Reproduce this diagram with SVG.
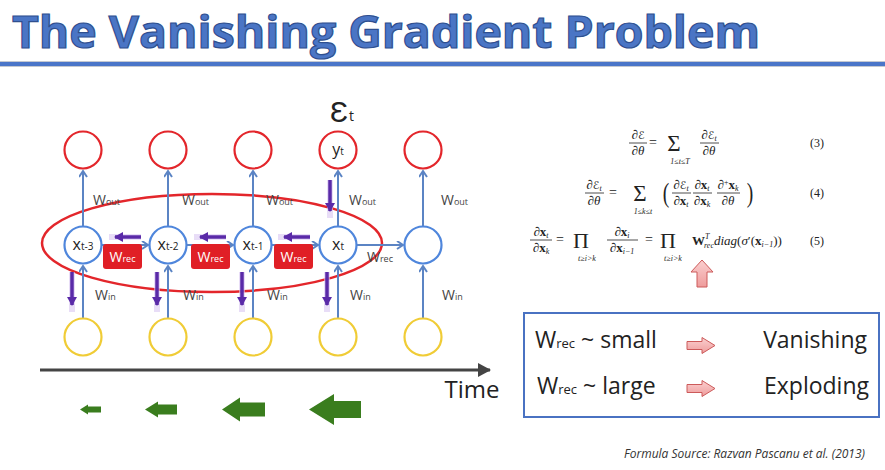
<svg xmlns="http://www.w3.org/2000/svg" width="885" height="470" viewBox="0 0 885 470">
<defs>
<marker id="ab" markerWidth="10" markerHeight="10" refX="7" refY="4" orient="auto" markerUnits="userSpaceOnUse"><path d="M1,0 L7,4 L1,8" fill="none" stroke="#5b84c4" stroke-width="2"/></marker>
<marker id="ap" markerWidth="12" markerHeight="12" refX="8" refY="5" orient="auto" markerUnits="userSpaceOnUse"><path d="M0,0 L9,5 L0,10 Z" fill="#5a2aa8"/></marker>
<marker id="ag" markerWidth="16" markerHeight="16" refX="12" refY="7" orient="auto" markerUnits="userSpaceOnUse"><path d="M0,0 L13,7 L0,14 Z" fill="#444"/></marker>
<linearGradient id="pk" x1="0" y1="0" x2="0" y2="1"><stop offset="0" stop-color="#fbd0d0"/><stop offset="1" stop-color="#ee9c9c"/></linearGradient>
</defs>
<style>
.t{font-family:"Open Sans","Liberation Sans",sans-serif;}
.ttl{font-family:"Open Sans","Liberation Sans",sans-serif;font-weight:700;font-size:45px;fill:#4a75c5;stroke:#2f4f8f;stroke-width:1.2px;}
.nb{fill:#fff;stroke:#4f86dc;stroke-width:2.2;}
.nr{fill:#fff;stroke:#e3262b;stroke-width:2.2;}
.ny{fill:#fff;stroke:#f0cc36;stroke-width:2.2;}
.ln{stroke:#5b84c4;stroke-width:2;fill:none;}
.pg{stroke:#d9c6f2;stroke-width:6;fill:none;opacity:0.6;}
.pp{stroke:#5a2aa8;stroke-width:3.5;fill:none;}
.lb{font-family:"Open Sans","Liberation Sans",sans-serif;fill:#444;font-size:14px;}
.sb{font-size:9px;}
.nl{font-family:"Open Sans","Liberation Sans",sans-serif;fill:#222;font-size:16px;}
.wr{fill:#e01f26;}
.m{font-family:"Liberation Serif","DejaVu Serif",serif;font-size:13px;fill:#222;}
.mi{font-style:italic;}
.mb{font-weight:bold;}
.sc{font-family:"DejaVu Sans",sans-serif;font-size:11px;}
.bar{stroke:#222;stroke-width:0.8;}
.gr{fill:#3a7d1e;}
.pa{fill:url(#pk);stroke:#cc5a5a;stroke-width:1;}
.bx{font-family:"Open Sans","Liberation Sans",sans-serif;fill:#222;font-size:23px;}
</style>
<rect width="885" height="470" fill="#fff"/>
<text class="ttl" x="12" y="48" textLength="748" lengthAdjust="spacingAndGlyphs">The Vanishing Gradient Problem</text>
<rect x="0" y="61" width="885" height="6" fill="#c4c8d0"/>
<rect x="0" y="62" width="885" height="4" fill="#4a75c8"/>

<g id="ellipse"><ellipse cx="212" cy="243" rx="170" ry="49" fill="none" stroke="#e3262b" stroke-width="2.5"/></g>

<g id="connectors">
<line class="ln" x1="83" y1="318" x2="83" y2="266" marker-end="url(#ab)"/>
<line class="ln" x1="168" y1="318" x2="168" y2="266" marker-end="url(#ab)"/>
<line class="ln" x1="253" y1="318" x2="253" y2="266" marker-end="url(#ab)"/>
<line class="ln" x1="338" y1="318" x2="338" y2="266" marker-end="url(#ab)"/>
<line class="ln" x1="423" y1="318" x2="423" y2="266" marker-end="url(#ab)"/>
<line class="ln" x1="83" y1="226" x2="83" y2="171" marker-end="url(#ab)"/>
<line class="ln" x1="168" y1="226" x2="168" y2="171" marker-end="url(#ab)"/>
<line class="ln" x1="253" y1="226" x2="253" y2="171" marker-end="url(#ab)"/>
<line class="ln" x1="338" y1="226" x2="338" y2="171" marker-end="url(#ab)"/>
<line class="ln" x1="423" y1="226" x2="423" y2="171" marker-end="url(#ab)"/>
<line class="ln" x1="102" y1="245" x2="148" y2="245" marker-end="url(#ab)"/>
<line class="ln" x1="187" y1="245" x2="233" y2="245" marker-end="url(#ab)"/>
<line class="ln" x1="272" y1="245" x2="318" y2="245" marker-end="url(#ab)"/>
<line class="ln" x1="357" y1="245" x2="403" y2="245" marker-end="url(#ab)"/>
<line class="pg" x1="141" y1="237" x2="109" y2="237"/>
<line class="pg" x1="226" y1="237" x2="194" y2="237"/>
<line class="pg" x1="310" y1="237" x2="278" y2="237"/>
<line class="pg" x1="330" y1="180" x2="330" y2="218"/>
<line class="pg" x1="72" y1="272" x2="72" y2="312"/>
<line class="pg" x1="157" y1="272" x2="157" y2="312"/>
<line class="pg" x1="242" y1="272" x2="242" y2="312"/>
<line class="pg" x1="327" y1="272" x2="327" y2="312"/>
<line class="pp" x1="141" y1="237" x2="115" y2="237" marker-end="url(#ap)"/>
<line class="pp" x1="226" y1="237" x2="200" y2="237" marker-end="url(#ap)"/>
<line class="pp" x1="310" y1="237" x2="284" y2="237" marker-end="url(#ap)"/>
<line class="pp" x1="330" y1="180" x2="330" y2="211" marker-end="url(#ap)"/>
<line class="pp" x1="72" y1="272" x2="72" y2="305" marker-end="url(#ap)"/>
<line class="pp" x1="157" y1="272" x2="157" y2="305" marker-end="url(#ap)"/>
<line class="pp" x1="242" y1="272" x2="242" y2="305" marker-end="url(#ap)"/>
<line class="pp" x1="327" y1="272" x2="327" y2="305" marker-end="url(#ap)"/>
<line x1="40" y1="370" x2="490" y2="370" stroke="#444" stroke-width="3" marker-end="url(#ag)"/>
</g>

<g id="labels">
<text class="lb" x="93" y="205">W<tspan class="sb">out</tspan></text>
<text class="lb" x="182" y="205">W<tspan class="sb">out</tspan></text>
<text class="lb" x="266" y="205">W<tspan class="sb">out</tspan></text>
<text class="lb" x="349" y="205">W<tspan class="sb">out</tspan></text>
<text class="lb" x="441" y="205">W<tspan class="sb">out</tspan></text>
<text class="lb" x="95" y="300">W<tspan class="sb">in</tspan></text>
<text class="lb" x="183" y="300">W<tspan class="sb">in</tspan></text>
<text class="lb" x="267" y="300">W<tspan class="sb">in</tspan></text>
<text class="lb" x="350" y="300">W<tspan class="sb">in</tspan></text>
<text class="lb" x="442" y="300">W<tspan class="sb">in</tspan></text>
<text class="lb" x="367" y="262">W<tspan class="sb">rec</tspan></text>
<text class="t" x="330" y="122" font-size="30" fill="#222">Ɛ</text>
<text class="t" x="349" y="121" font-size="14" fill="#222">t</text>
<text class="t" x="472" y="398" font-size="24" fill="#222" text-anchor="middle">Time</text>
</g>

<g id="wrec1"><rect class="wr" x="103" y="244" width="39" height="25" rx="3"/><text class="t" x="122.5" y="262" font-size="14" fill="#fff" text-anchor="middle">W<tspan font-size="9">rec</tspan></text></g>
<g id="wrec2"><rect class="wr" x="191" y="244" width="39" height="25" rx="3"/><text class="t" x="210.5" y="262" font-size="14" fill="#fff" text-anchor="middle">W<tspan font-size="9">rec</tspan></text></g>
<g id="wrec3"><rect class="wr" x="274" y="244" width="39" height="25" rx="3"/><text class="t" x="293.5" y="262" font-size="14" fill="#fff" text-anchor="middle">W<tspan font-size="9">rec</tspan></text></g>

<g id="y1"><circle class="nr" cx="83" cy="150" r="18.5"/></g>
<g id="y2"><circle class="nr" cx="168" cy="150" r="18.5"/></g>
<g id="y3"><circle class="nr" cx="253" cy="150" r="18.5"/></g>
<g id="y4"><circle class="nr" cx="338" cy="150" r="18.5"/><text class="nl" x="338" y="155" text-anchor="middle">y<tspan font-size="10">t</tspan></text></g>
<g id="y5"><circle class="nr" cx="423" cy="150" r="18.5"/></g>

<g id="x1"><circle class="nb" cx="83" cy="245" r="18.5"/><text class="nl" x="83" y="250" text-anchor="middle">x<tspan font-size="10">t-3</tspan></text></g>
<g id="x2"><circle class="nb" cx="168" cy="245" r="18.5"/><text class="nl" x="168" y="250" text-anchor="middle">x<tspan font-size="10">t-2</tspan></text></g>
<g id="x3"><circle class="nb" cx="253" cy="245" r="18.5"/><text class="nl" x="253" y="250" text-anchor="middle">x<tspan font-size="10">t-1</tspan></text></g>
<g id="x4"><circle class="nb" cx="338" cy="245" r="18.5"/><text class="nl" x="338" y="250" text-anchor="middle">x<tspan font-size="10">t</tspan></text></g>
<g id="x5"><circle class="nb" cx="423" cy="245" r="18.5"/></g>

<g id="i1"><circle class="ny" cx="83" cy="337" r="18.5"/></g>
<g id="i2"><circle class="ny" cx="168" cy="337" r="18.5"/></g>
<g id="i3"><circle class="ny" cx="253" cy="337" r="18.5"/></g>
<g id="i4"><circle class="ny" cx="338" cy="337" r="18.5"/></g>
<g id="i5"><circle class="ny" cx="423" cy="337" r="18.5"/></g>

<g id="green-arrows">
<path class="gr" d="M80,409.5 L88,404.5 L88,406.5 L101,406.5 L101,412.5 L88,412.5 L88,414.5 Z"/>
<path class="gr" d="M145,409.5 L158,401.5 L158,404.5 L177,404.5 L177,414.5 L158,414.5 L158,417.5 Z"/>
<path class="gr" d="M222,409.5 L240,397.5 L240,402.5 L265,402.5 L265,416.5 L240,416.5 L240,421.5 Z"/>
<path class="gr" d="M309,409.5 L334,394 L334,401 L361,401 L361,418 L334,418 L334,425 Z"/>
</g>

<g id="eq3" class="m">
<text x="638" y="139" text-anchor="middle">∂<tspan class="sc">ℰ</tspan></text><line class="bar" x1="629" y1="143" x2="647" y2="143"/><text x="638" y="155" text-anchor="middle" class="mi">∂θ</text>
<text x="653" y="147" text-anchor="middle" font-size="14">=</text>
<text x="674" y="151" text-anchor="middle" font-size="23">Σ</text>
<text x="680" y="164" text-anchor="middle" font-size="8" class="mi">1≤t≤T</text>
<text x="709" y="139" text-anchor="middle">∂<tspan class="sc">ℰ</tspan><tspan font-size="8" class="mi" dy="2">t</tspan></text><line class="bar" x1="700" y1="143" x2="719" y2="143"/><text x="709" y="155" text-anchor="middle" class="mi">∂θ</text>
<text x="817" y="147" text-anchor="middle" font-size="12">(3)</text>
</g>

<g id="eq4" class="m">
<text x="594" y="189" text-anchor="middle">∂<tspan class="sc">ℰ</tspan><tspan font-size="8" class="mi" dy="2">t</tspan></text><line class="bar" x1="585" y1="193" x2="604" y2="193"/><text x="594" y="205" text-anchor="middle" class="mi">∂θ</text>
<text x="613" y="197" text-anchor="middle" font-size="14">=</text>
<text x="640" y="201" text-anchor="middle" font-size="23">Σ</text>
<text x="643" y="214" text-anchor="middle" font-size="8" class="mi">1≤k≤t</text>
<text x="666" y="202" text-anchor="middle" font-size="28" transform="translate(666 197) scale(0.7 1) translate(-666 -197)">(</text>
<text x="681" y="189" text-anchor="middle">∂<tspan class="sc">ℰ</tspan><tspan font-size="8" class="mi" dy="2">t</tspan></text><line class="bar" x1="672" y1="193" x2="691" y2="193"/><text x="681" y="205" text-anchor="middle">∂<tspan class="mb">x</tspan><tspan font-size="8" class="mi" dy="2">t</tspan></text>
<text x="702" y="189" text-anchor="middle">∂<tspan class="mb">x</tspan><tspan font-size="8" class="mi" dy="2">t</tspan></text><line class="bar" x1="693" y1="193" x2="712" y2="193"/><text x="702" y="205" text-anchor="middle">∂<tspan class="mb">x</tspan><tspan font-size="8" class="mi" dy="2">k</tspan></text>
<text x="728" y="189" text-anchor="middle">∂<tspan font-size="8" dy="-4">+</tspan><tspan class="mb" dy="4">x</tspan><tspan font-size="8" class="mi" dy="2">k</tspan></text><line class="bar" x1="717" y1="193" x2="740" y2="193"/><text x="728" y="205" text-anchor="middle" class="mi">∂θ</text>
<text x="750" y="202" text-anchor="middle" font-size="28" transform="translate(750 197) scale(0.7 1) translate(-750 -197)">)</text>
<text x="817" y="197" text-anchor="middle" font-size="12">(4)</text>
</g>

<g id="eq5" class="m">
<text x="541" y="236" text-anchor="middle">∂<tspan class="mb">x</tspan><tspan font-size="8" class="mi" dy="2">t</tspan></text><line class="bar" x1="530" y1="240" x2="552" y2="240"/><text x="541" y="252" text-anchor="middle">∂<tspan class="mb">x</tspan><tspan font-size="8" class="mi" dy="2">k</tspan></text>
<text x="560" y="244" text-anchor="middle" font-size="14">=</text>
<text x="581" y="248" text-anchor="middle" font-size="22">Π</text>
<text x="587" y="261" text-anchor="middle" font-size="8" class="mi">t≥i&gt;k</text>
<text x="622" y="236" text-anchor="middle">∂<tspan class="mb">x</tspan><tspan font-size="8" class="mi" dy="2">i</tspan></text><line class="bar" x1="607" y1="240" x2="638" y2="240"/><text x="622" y="252" text-anchor="middle">∂<tspan class="mb">x</tspan><tspan font-size="8" class="mi" dy="2">i−1</tspan></text>
<text x="649" y="244" text-anchor="middle" font-size="14">=</text>
<text x="668" y="248" text-anchor="middle" font-size="22">Π</text>
<text x="673" y="261" text-anchor="middle" font-size="8" class="mi">t≥i&gt;k</text>
<text x="692" y="245"><tspan class="mb">W</tspan><tspan font-size="8" class="mi" dy="-6">T</tspan><tspan font-size="8" class="mi" dx="-5" dy="9">rec</tspan><tspan class="mi" dy="-3">diag</tspan>(<tspan class="mi">σ</tspan>′(<tspan class="mb">x</tspan><tspan font-size="8" class="mi" dy="2">i−1</tspan><tspan dy="-2">))</tspan></text>
<text x="817" y="245" text-anchor="middle" font-size="12">(5)</text>
<path class="pa" d="M702,260 L713,272 L707,272 L707,287 L697,287 L697,272 L691,272 Z"/>
</g>

<g id="summary">
<rect x="524" y="313" width="355" height="104" fill="none" stroke="#4a72c2" stroke-width="2"/>
<text class="bx" x="535" y="348">W<tspan font-size="13">rec</tspan> ~ small</text>
<text class="bx" x="537" y="394">W<tspan font-size="13">rec</tspan> ~ large</text>
<path class="pa" d="M687,341.5 L702,341.5 L702,337.5 L715,345.5 L702,353.5 L702,349.5 L687,349.5 Z"/>
<path class="pa" d="M687,384.5 L702,384.5 L702,380.5 L715,388.5 L702,396.5 L702,392.5 L687,392.5 Z"/>
<text class="bx" x="867" y="348" text-anchor="end">Vanishing</text>
<text class="bx" x="869" y="394" text-anchor="end">Exploding</text>
</g>

<text class="t" x="865" y="458" font-size="12" font-style="italic" fill="#333" text-anchor="end">Formula Source: Razvan Pascanu et al. (2013)</text>
</svg>
